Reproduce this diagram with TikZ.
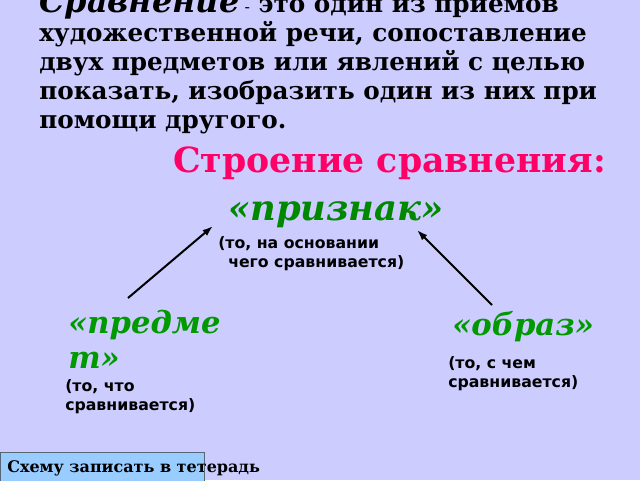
\documentclass[tikz,border=0pt]{standalone}
\usepackage{fontspec}
\setmainfont{DejaVu Serif}
\newfontfamily\notefont{DejaVu Sans}
\usetikzlibrary{arrows.meta}

\definecolor{slidebg}{HTML}{CCCCFF}
\definecolor{titlepink}{HTML}{FF0066}
\definecolor{signgreen}{HTML}{008800}
\definecolor{termgreen}{HTML}{009900}
\definecolor{hintblue}{HTML}{99CCFF}
\definecolor{hintedge}{HTML}{556677}

\tikzset{
  txt/.style={anchor=base west, inner sep=0pt, align=left},
  term/.style={txt, text=termgreen, font=\fontsize{23}{26.25}\selectfont\bfseries\itshape},
  note/.style={txt, font=\notefont\bfseries\fontsize{11.8}{14.25}\selectfont},
  pointer/.style={-{Latex[length=8pt,width=5.5pt]}, line width=1.5pt}
}

\begin{document}
\begin{tikzpicture}[x=0.75pt,y=-0.75pt]
\useasboundingbox (0,0) rectangle (640,480);
\fill[slidebg] (0,0) rectangle (640,480);
\node[txt, font=\bfseries\fontsize{18.5}{21.75}\selectfont] (def) at (39,128)
  {{\fontsize{24}{22}\selectfont\itshape Сравнение}{\fontsize{12}{12}\selectfont\mdseries{} -} это один из приемов\\
   художественной речи, сопоставление\\
   двух предметов или явлений с целью\\
   показать, изобразить один из них при\\
   помощи другого.};
\node[txt, text=titlepink, font=\bfseries\fontsize{26}{28}\selectfont] (head) at (173,172) {Строение сравнения:};
\node[term, text=signgreen, font=\fontsize{26.5}{28}\selectfont\bfseries\itshape] (sign) at (228,220) {«признак»};
\node[note] (signnote) at (218,267) {(то, на основании\\\hspace*{7.5pt}чего сравнивается)};
\node[term] (subj) at (68,368) {«предме\\т»};
\node[note] (subjnote) at (65,410) {(то, что\\сравнивается)};
\node[term] (img) at (452,335) {«образ»};
\node[note] (imgnote) at (448,387) {(то, с чем\\сравнивается)};
\coordinate (subjtail) at (128,298);
\coordinate (subjtip) at (213,226);
\coordinate (imgtail) at (492,305);
\coordinate (imgtip) at (417,230);
\draw[pointer] (subjtail) -- (subjtip);
\draw[pointer] (imgtail) -- (imgtip);
\node[draw=hintedge, fill=hintblue, line width=0.8pt, minimum width=153pt, minimum height=22pt, anchor=north west, inner sep=0pt] (hintbox) at (0,452) {};
\node[txt, font=\bfseries\fontsize{12}{12}\selectfont] (hint) at (7,472) {Схему записать в тетерадь};
\end{tikzpicture}
\end{document}
